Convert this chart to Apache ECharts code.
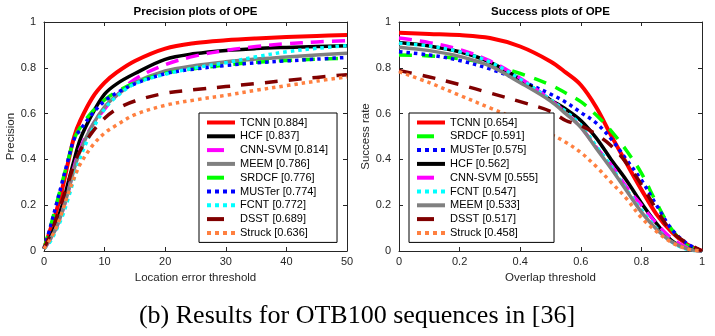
<!DOCTYPE html>
<html>
<head>
<meta charset="utf-8">
<script src="https://cdn.jsdelivr.net/npm/echarts@6/dist/echarts.min.js"></script>
<style>
html, body { margin: 0; padding: 0; background: #fff; }
#chart { width: 715px; height: 336px; }
</style>
</head>
<body>
<div id="chart"></div>
<script>
// ---- Precision plot (location error threshold, pixels) ----
const errThresholds = [0, 1, 2, 3, 4, 5, 6, 8, 10, 12, 15, 20, 25, 30, 35, 40, 45, 50];
const errTicks = [0, 10, 20, 30, 40, 50];

const precisionOrder  = ['TCNN', 'HCF', 'CNN-SVM', 'MEEM', 'SRDCF', 'MUSTer', 'FCNT', 'DSST', 'Struck'];
const precisionScores = [0.884, 0.837, 0.814, 0.786, 0.776, 0.774, 0.772, 0.689, 0.636];

const precTCNN   = [0.01, 0.09, 0.17, 0.27, 0.39, 0.50, 0.57, 0.67, 0.735, 0.78, 0.83, 0.884, 0.908, 0.920, 0.928, 0.934, 0.939, 0.943];
const precHCF    = [0.01, 0.06, 0.12, 0.20, 0.30, 0.40, 0.49, 0.60, 0.685, 0.73, 0.775, 0.837, 0.862, 0.876, 0.884, 0.889, 0.893, 0.896];
const precCNNSVM = [0.01, 0.05, 0.10, 0.17, 0.26, 0.37, 0.45, 0.55, 0.62, 0.68, 0.75, 0.814, 0.852, 0.876, 0.893, 0.905, 0.913, 0.918];
const precMEEM   = [0.01, 0.05, 0.10, 0.17, 0.26, 0.36, 0.44, 0.55, 0.63, 0.68, 0.735, 0.786, 0.81, 0.826, 0.838, 0.847, 0.856, 0.864];
const precSRDCF  = [0.01, 0.10, 0.20, 0.30, 0.40, 0.49, 0.54, 0.61, 0.66, 0.695, 0.735, 0.776, 0.797, 0.812, 0.824, 0.832, 0.838, 0.842];
const precMUSTer = [0.01, 0.10, 0.20, 0.30, 0.40, 0.49, 0.53, 0.60, 0.655, 0.69, 0.73, 0.774, 0.795, 0.81, 0.822, 0.83, 0.838, 0.845];
const precFCNT   = [0.01, 0.04, 0.09, 0.15, 0.23, 0.32, 0.41, 0.53, 0.62, 0.675, 0.73, 0.772, 0.80, 0.822, 0.848, 0.87, 0.885, 0.897];
const precDSST   = [0.01, 0.07, 0.14, 0.22, 0.30, 0.38, 0.44, 0.52, 0.58, 0.62, 0.655, 0.689, 0.705, 0.718, 0.731, 0.745, 0.758, 0.77];
const precStruck = [0.01, 0.05, 0.10, 0.17, 0.25, 0.32, 0.38, 0.46, 0.515, 0.55, 0.595, 0.636, 0.66, 0.68, 0.702, 0.722, 0.742, 0.76];

// ---- Success plot (overlap threshold) ----
const overlapThresholds = [0, 0.1, 0.2, 0.3, 0.4, 0.5, 0.55, 0.6, 0.65, 0.7, 0.75, 0.8, 0.85, 0.9, 0.95, 1];
const overlapTicks = [0, 0.2, 0.4, 0.6, 0.8, 1];

const successOrder  = ['TCNN', 'SRDCF', 'MUSTer', 'HCF', 'CNN-SVM', 'FCNT', 'MEEM', 'DSST', 'Struck'];
const successScores = [0.654, 0.591, 0.575, 0.562, 0.555, 0.547, 0.533, 0.517, 0.458];

const succTCNN   = [0.953, 0.948, 0.943, 0.930, 0.893, 0.828, 0.780, 0.725, 0.630, 0.505, 0.385, 0.268, 0.160, 0.083, 0.030, 0.0];
const succSRDCF  = [0.856, 0.852, 0.840, 0.815, 0.775, 0.725, 0.690, 0.652, 0.595, 0.525, 0.440, 0.340, 0.210, 0.095, 0.025, 0.0];
const succMUSTer = [0.870, 0.856, 0.832, 0.795, 0.745, 0.685, 0.650, 0.605, 0.560, 0.490, 0.400, 0.310, 0.200, 0.095, 0.033, 0.0];
const succHCF    = [0.910, 0.895, 0.870, 0.825, 0.750, 0.660, 0.620, 0.570, 0.495, 0.400, 0.310, 0.210, 0.120, 0.045, 0.012, 0.0];
const succCNNSVM = [0.930, 0.910, 0.880, 0.830, 0.755, 0.660, 0.605, 0.540, 0.455, 0.375, 0.280, 0.200, 0.120, 0.055, 0.015, 0.0];
const succFCNT   = [0.907, 0.895, 0.870, 0.825, 0.750, 0.660, 0.610, 0.550, 0.460, 0.370, 0.270, 0.180, 0.100, 0.040, 0.008, 0.0];
const succMEEM   = [0.890, 0.875, 0.850, 0.808, 0.735, 0.655, 0.600, 0.540, 0.450, 0.360, 0.265, 0.170, 0.095, 0.040, 0.010, 0.0];
const succDSST   = [0.788, 0.760, 0.727, 0.690, 0.652, 0.610, 0.570, 0.548, 0.510, 0.460, 0.385, 0.290, 0.180, 0.085, 0.035, 0.0];
const succStruck = [0.783, 0.735, 0.680, 0.625, 0.570, 0.510, 0.475, 0.430, 0.370, 0.300, 0.230, 0.145, 0.085, 0.037, 0.010, 0.0];

const precisionCurves = {
  'TCNN': precTCNN, 'HCF': precHCF, 'CNN-SVM': precCNNSVM, 'MEEM': precMEEM, 'SRDCF': precSRDCF,
  'MUSTer': precMUSTer, 'FCNT': precFCNT, 'DSST': precDSST, 'Struck': precStruck
};
const successCurves = {
  'TCNN': succTCNN, 'SRDCF': succSRDCF, 'MUSTer': succMUSTer, 'HCF': succHCF, 'CNN-SVM': succCNNSVM,
  'FCNT': succFCNT, 'MEEM': succMEEM, 'DSST': succDSST, 'Struck': succStruck
};

// Line appearance for each tracker (MATLAB-like colours and dash patterns);
// legendType is the dash used for the short sample line in the legend box.
const trackerStyle = {
  'TCNN':    { color: '#ff0000', type: 'solid',   legendType: 'solid',  width: 4 },
  'HCF':     { color: '#000000', type: 'solid',   legendType: 'solid',  width: 3.5 },
  'CNN-SVM': { color: '#ff00ff', type: [13, 8],   legendType: [17, 20], width: 3.5 },
  'MEEM':    { color: '#808080', type: 'solid',   legendType: 'solid',  width: 3.5 },
  'SRDCF':   { color: '#00ff00', type: [13, 10],  legendType: [17, 20], width: 3.5 },
  'MUSTer':  { color: '#0000ff', type: [3.5, 4],  legendType: [4, 4],   width: 3.5 },
  'FCNT':    { color: '#00ffff', type: [3.5, 4],  legendType: [4, 4],   width: 3.5 },
  'DSST':    { color: '#800000', type: [13, 11],  legendType: [17, 20], width: 3.5 },
  'Struck':  { color: '#ff8040', type: [3.5, 4],  legendType: [4, 4],   width: 3.5 }
};

const FONT = 'Liberation Sans, Arial, Helvetica, sans-serif';
const AXIS_COLOR = '#262626';

function label(name, score) { return name + ' [' + score.toFixed(3) + ']'; }

function makeSeries(order, scores, curves, xs, idx) {
  return order.map((name, i) => {
    const st = trackerStyle[name];
    return {
      type: 'line',
      name: label(name, scores[i]),
      xAxisIndex: idx * 2,
      yAxisIndex: idx * 2,
      data: xs.map((x, k) => [x, curves[name][k]]),
      symbol: 'none',
      showSymbol: false,
      smooth: 0.35,
      clip: true,
      silent: true,
      z: 2 + i,
      lineStyle: { color: st.color, width: st.width, type: st.type, cap: 'butt', join: 'round' },
      itemStyle: { color: st.color }
    };
  });
}

function xAxes(gridIndex, min, max, interval, name) {
  const common = {
    gridIndex, type: 'value', min, max, interval,
    splitLine: { show: false },
    axisLine: { show: true, onZero: false, lineStyle: { color: AXIS_COLOR, width: 1 } },
    axisTick: { show: true, inside: true, length: 4, lineStyle: { color: AXIS_COLOR } }
  };
  return [
    Object.assign({}, common, {
      position: 'bottom',
      name, nameLocation: 'middle', nameGap: 18,
      nameTextStyle: { fontFamily: FONT, fontSize: 11.5, color: '#262626' },
      axisLabel: { show: true, margin: 5, fontFamily: FONT, fontSize: 11, color: '#262626' }
    }),
    Object.assign({}, common, { position: 'top', axisLabel: { show: false } })
  ];
}

function yAxes(gridIndex, name, nameGap) {
  const common = {
    gridIndex, type: 'value', min: 0, max: 1, interval: 0.2,
    splitLine: { show: false },
    axisLine: { show: true, onZero: false, lineStyle: { color: AXIS_COLOR, width: 1 } },
    axisTick: { show: true, inside: true, length: 4, lineStyle: { color: AXIS_COLOR } }
  };
  return [
    Object.assign({}, common, {
      position: 'left',
      name, nameLocation: 'middle', nameGap, nameRotate: 90,
      nameTextStyle: { fontFamily: FONT, fontSize: 11.5, color: '#262626' },
      axisLabel: { show: true, margin: 8, fontFamily: FONT, fontSize: 11, color: '#262626' }
    }),
    Object.assign({}, common, { position: 'right', axisLabel: { show: false } })
  ];
}

function makeLegend(order, scores, left, padRight) {
  return {
    data: order.map((n, i) => ({
      name: label(n, scores[i]),
      lineStyle: { type: trackerStyle[n].legendType, width: 4, cap: 'butt' }
    })),
    orient: 'vertical',
    left, top: 113,
    itemWidth: 28, itemHeight: 10, itemGap: 2.8,
    padding: [4, padRight, 4, 6],
    borderColor: '#000', borderWidth: 1, borderRadius: 0,
    backgroundColor: '#fff',
    selectedMode: false,
    textStyle: { fontFamily: FONT, fontSize: 11, color: '#000' },
    lineStyle: { width: 4 },
    itemStyle: { opacity: 0, borderWidth: 0 },
    z: 20
  };
}

const chart = echarts.init(document.getElementById('chart'), null, { renderer: 'canvas' });

chart.setOption({
  animation: false,
  backgroundColor: '#fff',
  grid: [
    { left: 44, top: 22, width: 303, height: 229 },
    { left: 399, top: 22, width: 303, height: 229 }
  ],
  xAxis: [
    ...xAxes(0, errTicks[0], errTicks[errTicks.length - 1], errTicks[1] - errTicks[0], 'Location error threshold'),
    ...xAxes(1, overlapTicks[0], overlapTicks[overlapTicks.length - 1], 0.2, 'Overlap threshold')
  ],
  yAxis: [
    ...yAxes(0, 'Precision', 23),
    ...yAxes(1, 'Success rate', 22)
  ],
  legend: [
    makeLegend(precisionOrder, precisionScores, 199, 9),
    makeLegend(successOrder, successScores, 409, 16)
  ],
  series: [
    ...makeSeries(precisionOrder, precisionScores, precisionCurves, errThresholds, 0),
    ...makeSeries(successOrder, successScores, successCurves, overlapThresholds, 1)
  ],
  graphic: [
    { type: 'text', x: 195.5, y: 12, style: { text: 'Precision plots of OPE', align: 'center', verticalAlign: 'middle', font: 'bold 11.5px ' + FONT, fill: '#000' } },
    { type: 'text', x: 550.5, y: 12, style: { text: 'Success plots of OPE', align: 'center', verticalAlign: 'middle', font: 'bold 11.5px ' + FONT, fill: '#000' } },
    { type: 'text', x: 357, y: 316, style: { text: '(b) Results for OTB100 sequences in [36]', align: 'center', verticalAlign: 'middle', font: '26px "Liberation Serif", "Times New Roman", serif', fill: '#000' } }
  ]
});
</script>
</body>
</html>
